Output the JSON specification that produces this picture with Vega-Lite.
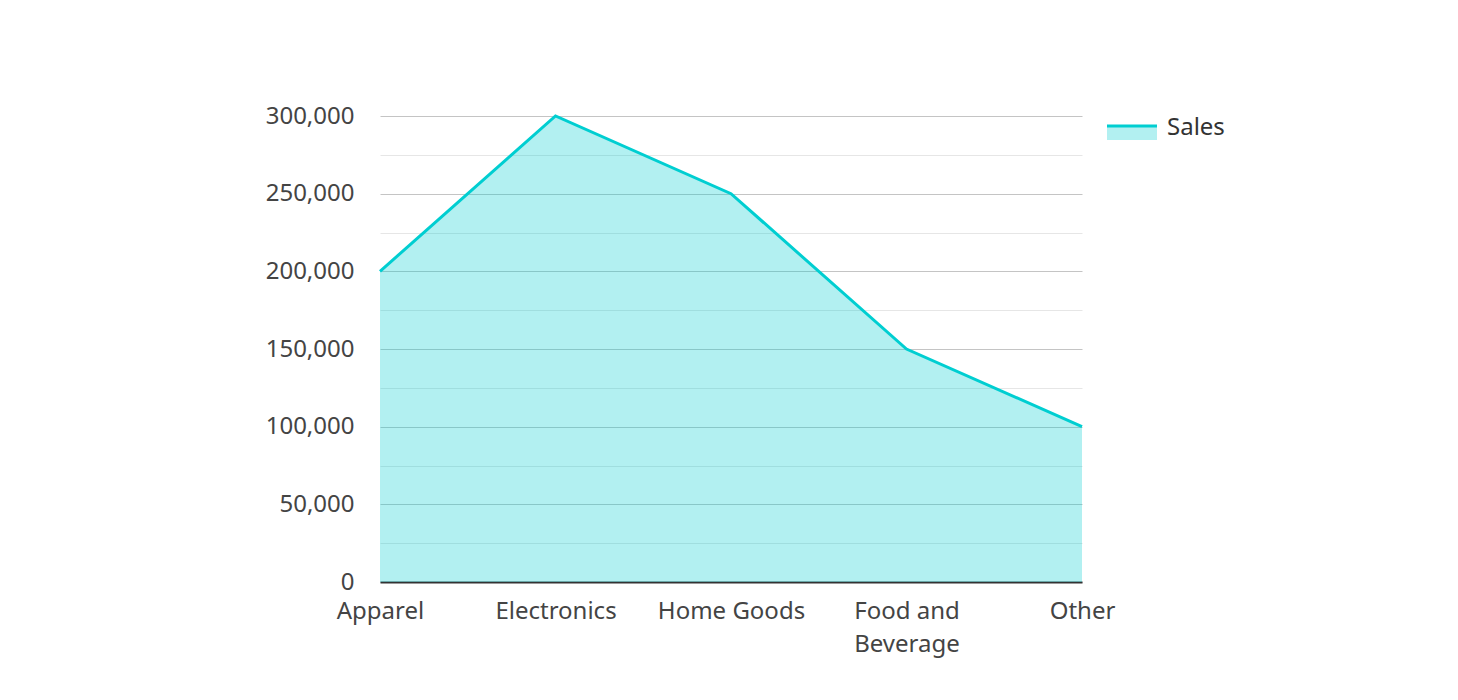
{
  "$schema": "https://vega.github.io/schema/vega-lite/v6.json",
  "width": 702,
  "height": 466,
  "autosize": "none",
  "padding": {"left": 380, "top": 116, "right": 376, "bottom": 118},
  "background": "white",
  "config": {
    "font": "Noto Sans",
    "view": {"stroke": null},
    "axis": {"labelFont": "Noto Sans", "labelColor": "#444444", "labelFontSize": 24}
  },
  "data": {
    "values": [
      {"category": "Apparel", "sales": 200000, "series": "Sales"},
      {"category": "Electronics", "sales": 300000, "series": "Sales"},
      {"category": "Home Goods", "sales": 250000, "series": "Sales"},
      {"category": "Food and Beverage", "sales": 150000, "series": "Sales"},
      {"category": "Other", "sales": 100000, "series": "Sales"}
    ]
  },
  "encoding": {
    "x": {
      "field": "category",
      "type": "nominal",
      "sort": null,
      "scale": {"type": "point", "padding": 0},
      "axis": {
        "title": null,
        "labelAngle": 0,
        "ticks": false,
        "tickSize": 0,
        "grid": false,
        "domainColor": "#333333",
        "domainWidth": 2,
        "labelPadding": 17,
        "labelBaseline": "top",
        "labelLineHeight": 33,
        "labelExpr": "datum.label == 'Food and Beverage' ? ['Food and', 'Beverage'] : datum.label"
      }
    },
    "y": {
      "field": "sales",
      "type": "quantitative",
      "scale": {"domain": [0, 300000], "nice": false},
      "axis": {
        "title": null,
        "values": [0, 25000, 50000, 75000, 100000, 125000, 150000, 175000, 200000, 225000, 250000, 275000, 300000],
        "labelExpr": "datum.value % 50000 === 0 ? format(datum.value, ',') : ''",
        "domain": false,
        "ticks": false,
        "tickSize": 0,
        "labelPadding": 26,
        "grid": true,
        "gridColor": {"condition": {"test": "datum.value % 50000 === 0", "value": "#c4c4c4"}, "value": "#e6e6e6"},
        "gridWidth": 1
      }
    }
  },
  "layer": [
    {
      "mark": {"type": "area", "fillOpacity": 0.3, "interpolate": "linear"},
      "encoding": {
        "fill": {
          "field": "series",
          "type": "nominal",
          "scale": {"range": ["#00CED1"]},
          "legend": {
            "title": null,
            "orient": "right",
            "offset": 18,
            "padding": 0,
            "symbolType": "M-1,-0.4H9V2.4H-1Z",
            "symbolSize": 100,
            "symbolStrokeWidth": 3,
            "symbolDash": [50, 400],
            "labelFontSize": 24,
            "labelColor": "#333333",
            "labelFont": "Noto Sans",
            "labelOffset": 43,
            "encode": {"symbols": {"update": {"fillOpacity": {"value": 0.3}, "stroke": {"value": "#00CED1"}, "strokeOpacity": {"value": 1}}}}
          }
        }
      }
    },
    {
      "mark": {"type": "line", "strokeWidth": 3, "interpolate": "linear", "color": "#00CED1"},
      "encoding": {}
    }
  ]
}
